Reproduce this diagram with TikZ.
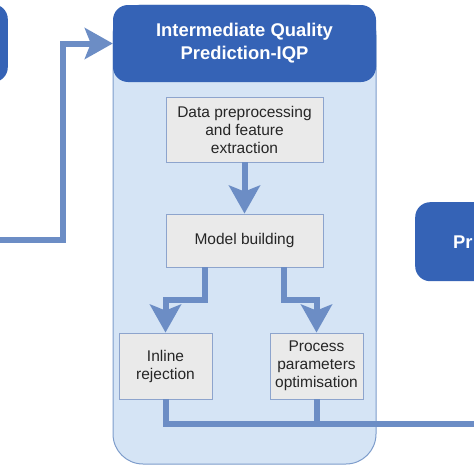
\documentclass[tikz,border=0pt]{standalone}
\usepackage{fontspec}
\setmainfont{Liberation Sans}
\usepackage{tikz}
\usetikzlibrary{arrows.meta,calc,positioning}
\definecolor{headblue}{HTML}{3563B6}
\definecolor{bodyblue}{HTML}{D5E4F5}
\definecolor{bodyedge}{HTML}{7D9CCB}
\definecolor{flowblue}{HTML}{6C8DC5}
\definecolor{boxgrey}{HTML}{EAEAEA}
\definecolor{boxedge}{HTML}{8DA4CD}
\newcommand\HeadFont{\fontsize{18.4}{23}\selectfont\bfseries}
\newcommand\BoxFont{\fontsize{15.5}{18}\selectfont}
\tikzset{
  blockhead/.style={
    shape = rectangle,
    draw = none,
    fill = headblue,
    rounded corners = 15pt,
    text = white,
    font = \HeadFont,
    align = center,
    inner sep = 0pt
  },
  stagebody/.style={
    draw = bodyedge,
    fill = bodyblue,
    line width = 1pt,
    rounded corners = 30pt
  },
  stepbox/.style={
    shape = rectangle,
    draw = boxedge,
    fill = boxgrey,
    line width = 0.9pt,
    text = black!85,
    font = \BoxFont,
    align = center,
    inner sep = 0pt
  },
  flow/.style={
    draw = flowblue,
    line width = 6pt,
    -{Stealth[width=31pt,length=28pt,inset=6pt]}
  },
  wire/.style={
    draw = flowblue,
    line width = 6pt
  }
}

\begin{document}
\begin{tikzpicture}[x=1pt,y=-1pt]
    \useasboundingbox (0,0) rectangle (474,474);

    % neighbouring stages (cut by the page)
    \node[blockhead, minimum width=80, minimum height=78, anchor=north east] (prevstage) at (8,4) {};
    \node[blockhead, minimum width=125, minimum height=79, anchor=north west,
          text width=49, inner xsep=38, align=left] (nextstage) at (415,202) {Pr};

    % IQP stage
    \draw[stagebody] (113,5) rectangle (376,464);
    \node[blockhead, minimum width=263, minimum height=77] (iqphead) at (244.5,43.5)
        {Intermediate Quality\\Prediction-IQP};

    \node[stepbox, minimum width=157, minimum height=65] (prep) at (244.5,129.5)
        {Data preprocessing\\and feature\\extraction};
    \node[stepbox, minimum width=157, minimum height=53] (model) at (244.5,240.5)
        {Model building};
    \node[stepbox, minimum width=93, minimum height=66] (inline) at (165.5,366)
        {Inline\\rejection};
    \node[stepbox, minimum width=93, minimum height=66] (optim) at (316.5,366)
        {Process\\parameters\\optimisation};

    \coordinate (inlet) at (-5,240);
    \coordinate (outlet) at (480,424);

    \draw[flow] (inlet) -| ($(iqphead.west)+(-50,0)$) -- (iqphead.west);
    \draw[flow] (prep) -- (model);
    \draw[flow] ([xshift=-39.5pt]model.south) -- ++(0,33) -| (inline.north);
    \draw[flow] ([xshift=39.5pt]model.south) -- ++(0,33) -| (optim.north);
    \draw[wire] (inline.south) |- (outlet);
    \draw[wire] (optim.south) -- (optim.south |- outlet);
\end{tikzpicture}
\end{document}
